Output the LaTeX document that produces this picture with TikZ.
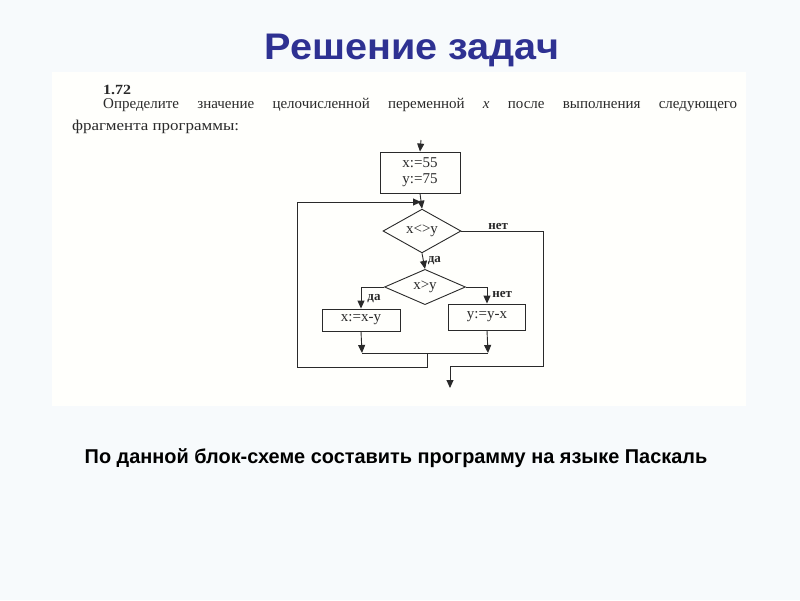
\documentclass[tikz,border=0pt]{standalone}
\usepackage{fontspec}
\setmainfont{Liberation Serif}
\newfontfamily\headfont{Liberation Sans}
\usetikzlibrary{arrows.meta, shapes.geometric}

\definecolor{slidebg}{HTML}{F7FAFC}
\definecolor{scanbg}{HTML}{FFFFFC}
\definecolor{titleblue}{HTML}{2E3192}
\definecolor{ink}{HTML}{2A2A2A}

\begin{document}
\begin{tikzpicture}[x=1pt, y=-1pt, >={Triangle[length=8pt, width=7pt]},
        line/.style={draw=ink, line width=0.9pt},
        block/.style={rectangle, draw=ink, line width=0.9pt, align=center, inner sep=0pt, font=\fontsize{15}{16}\selectfont, text=ink},
        decision/.style={diamond, draw=ink, line width=0.9pt, inner sep=0pt, font=\fontsize{15}{16}\selectfont, text=ink},
        lbl/.style={font=\fontsize{13}{14}\selectfont\bfseries, text=ink, inner sep=1pt}]

        % slide and scanned page
        \fill[slidebg] (0,0) rectangle (800,600);
        \useasboundingbox (0,0) rectangle (800,600);
        \fill[scanbg] (52,72) rectangle (746,406);

        \node (title) [font=\headfont\bfseries\fontsize{37}{40}\selectfont, text=titleblue, xscale=1.07, transform shape] at (412,50) {Решение задач};

        \node (num) [anchor=base west, font=\bfseries\fontsize{14}{15}\selectfont, text=ink, inner sep=0pt, xscale=1.14, transform shape] at (103,94) {1.72};
        \node (task1) [anchor=base west, font=\fontsize{15}{16}\selectfont, text=ink, inner sep=0pt] at (103,108) {\makebox[634pt][s]{Определите значение целочисленной переменной \textit{x} после выполнения следующего}};
        \node (task2) [anchor=base west, font=\fontsize{15}{16}\selectfont, text=ink, inner sep=0pt, xscale=1.13, transform shape] at (72,130) {фрагмента программы:};

        % flowchart
        \node (init) [block, minimum width=80pt, minimum height=41pt] at (420,172.5) {x:=55\\y:=75};
        \node (cond1) [decision, minimum width=78pt, minimum height=35pt] at (422,231) {x<>y};
        \node (cond2) [decision, minimum width=81pt, minimum height=35pt] at (425,287) {x>y};
        \node (subx) [block, minimum width=78pt, minimum height=22pt] at (361,320) {x:=x-y};
        \node (suby) [block, minimum width=77pt, minimum height=26pt] at (487,317) {y:=y-x};

        \coordinate (start) at (421,140);
        \coordinate (loop) at (421,202);
        \coordinate (mergel) at (362,353);
        \coordinate (merger) at (488,353);
        \coordinate (merge) at (427,353);
        \coordinate (exit) at (450,388);

        \draw[line, ->] (start) -- (init.north);
        \draw[line, ->] (init.south) -- (cond1.north);
        \draw[line, ->] (merge) -- (427,367) -- (297,367) -- (297,202) -- (loop);
        \draw[line, ->] (cond1.east) -- node[lbl, above, pos=0.45] {нет} (543,231) -- (543,366) -- (450,366) -- (exit);
        \draw[line, ->] (cond1.south) -- node[lbl, right, pos=0.45, xshift=3pt] {да} (cond2.north);
        \draw[line, ->] (cond2.west) -| node[lbl, right, pos=0.78, xshift=5pt] {да} (subx.north);
        \draw[line, ->] (cond2.east) -| node[lbl, right, pos=0.72, xshift=4pt] {нет} (suby.north);
        \draw[line, ->] (subx.south) -- (mergel);
        \draw[line, ->] (suby.south) -- (merger);
        \draw[line] (mergel) -- (merger);

        \node (task) [font=\headfont\bfseries\fontsize{20}{22}\selectfont, text=black, xscale=0.995, transform shape] at (396,458) {По данной блок-схеме составить программу на языке Паскаль};
    \end{tikzpicture}
\end{document}
